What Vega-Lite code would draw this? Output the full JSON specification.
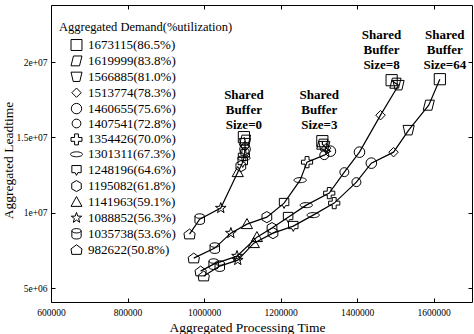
{
  "$schema": "https://vega.github.io/schema/vega-lite/v6.json",
  "width": 421,
  "height": 297,
  "autosize": {"type": "none"},
  "padding": {"left": 51, "top": 5, "right": 2, "bottom": 32},
  "background": "white",
  "config": {
    "font": "Liberation Serif",
    "view": {"stroke": "black", "strokeWidth": 1},
    "axis": {"grid": false}
  },
  "datasets": {
    "points": [
      {"buffer": "0", "demand": 982622, "level": "982622(50.8%)", "time": 962000, "leadtime": 8580000},
      {"buffer": "0", "demand": 1035738, "level": "1035738(53.6%)", "time": 988500, "leadtime": 9575000},
      {"buffer": "0", "demand": 1088852, "level": "1088852(56.3%)", "time": 1043600, "leadtime": 10306000},
      {"buffer": "0", "demand": 1141963, "level": "1141963(59.1%)", "time": 1088000, "leadtime": 12696000},
      {"buffer": "0", "demand": 1195082, "level": "1195082(61.8%)", "time": 1096000, "leadtime": 13094000},
      {"buffer": "0", "demand": 1248196, "level": "1248196(64.6%)", "time": 1101000, "leadtime": 13360000},
      {"buffer": "0", "demand": 1301311, "level": "1301311(67.3%)", "time": 1104000, "leadtime": 13626000},
      {"buffer": "0", "demand": 1354426, "level": "1354426(70.0%)", "time": 1104000, "leadtime": 13825000},
      {"buffer": "0", "demand": 1407541, "level": "1407541(72.8%)", "time": 1106000, "leadtime": 14024000},
      {"buffer": "0", "demand": 1460655, "level": "1460655(75.6%)", "time": 1107000, "leadtime": 14223000},
      {"buffer": "0", "demand": 1513774, "level": "1513774(78.3%)", "time": 1107000, "leadtime": 14422000},
      {"buffer": "0", "demand": 1566885, "level": "1566885(81.0%)", "time": 1107000, "leadtime": 14622000},
      {"buffer": "0", "demand": 1619999, "level": "1619999(83.8%)", "time": 1107000, "leadtime": 14821000},
      {"buffer": "0", "demand": 1673115, "level": "1673115(86.5%)", "time": 1104000, "leadtime": 15020000},

      {"buffer": "3", "demand": 982622, "level": "982622(50.8%)", "time": 973000, "leadtime": 6986000},
      {"buffer": "3", "demand": 1035738, "level": "1035738(53.6%)", "time": 1028000, "leadtime": 7650000},
      {"buffer": "3", "demand": 1088852, "level": "1088852(56.3%)", "time": 1070000, "leadtime": 8646000},
      {"buffer": "3", "demand": 1141963, "level": "1141963(59.1%)", "time": 1112000, "leadtime": 9243000},
      {"buffer": "3", "demand": 1195082, "level": "1195082(61.8%)", "time": 1164000, "leadtime": 9708000},
      {"buffer": "3", "demand": 1248196, "level": "1248196(64.6%)", "time": 1209000, "leadtime": 10638000},
      {"buffer": "3", "demand": 1301311, "level": "1301311(67.3%)", "time": 1251000, "leadtime": 12165000},
      {"buffer": "3", "demand": 1354426, "level": "1354426(70.0%)", "time": 1269000, "leadtime": 13360000},
      {"buffer": "3", "demand": 1407541, "level": "1407541(72.8%)", "time": 1314000, "leadtime": 13825000},
      {"buffer": "3", "demand": 1460655, "level": "1460655(75.6%)", "time": 1330000, "leadtime": 14090000},
      {"buffer": "3", "demand": 1513774, "level": "1513774(78.3%)", "time": 1319000, "leadtime": 14290000},
      {"buffer": "3", "demand": 1566885, "level": "1566885(81.0%)", "time": 1314000, "leadtime": 14422000},
      {"buffer": "3", "demand": 1619999, "level": "1619999(83.8%)", "time": 1309000, "leadtime": 14555000},
      {"buffer": "3", "demand": 1673115, "level": "1673115(86.5%)", "time": 1309000, "leadtime": 14754000},

      {"buffer": "8", "demand": 982622, "level": "982622(50.8%)", "time": 991000, "leadtime": 6122000},
      {"buffer": "8", "demand": 1035738, "level": "1035738(53.6%)", "time": 1025000, "leadtime": 6587000},
      {"buffer": "8", "demand": 1088852, "level": "1088852(56.3%)", "time": 1086000, "leadtime": 7118000},
      {"buffer": "8", "demand": 1141963, "level": "1141963(59.1%)", "time": 1138000, "leadtime": 8380000},
      {"buffer": "8", "demand": 1195082, "level": "1195082(61.8%)", "time": 1177500, "leadtime": 8978000},
      {"buffer": "8", "demand": 1248196, "level": "1248196(64.6%)", "time": 1219500, "leadtime": 9708000},
      {"buffer": "8", "demand": 1301311, "level": "1301311(67.3%)", "time": 1267000, "leadtime": 10505000},
      {"buffer": "8", "demand": 1354426, "level": "1354426(70.0%)", "time": 1327000, "leadtime": 11302000},
      {"buffer": "8", "demand": 1407541, "level": "1407541(72.8%)", "time": 1366500, "leadtime": 12696000},
      {"buffer": "8", "demand": 1460655, "level": "1460655(75.6%)", "time": 1406000, "leadtime": 14024000},
      {"buffer": "8", "demand": 1513774, "level": "1513774(78.3%)", "time": 1461000, "leadtime": 16481000},
      {"buffer": "8", "demand": 1566885, "level": "1566885(81.0%)", "time": 1508000, "leadtime": 18473000},
      {"buffer": "8", "demand": 1619999, "level": "1619999(83.8%)", "time": 1500000, "leadtime": 18606000},
      {"buffer": "8", "demand": 1673115, "level": "1673115(86.5%)", "time": 1490000, "leadtime": 18805000},

      {"buffer": "64", "demand": 982622, "level": "982622(50.8%)", "time": 999000, "leadtime": 5790000},
      {"buffer": "64", "demand": 1035738, "level": "1035738(53.6%)", "time": 1041000, "leadtime": 6454000},
      {"buffer": "64", "demand": 1088852, "level": "1088852(56.3%)", "time": 1088000, "leadtime": 6853000},
      {"buffer": "64", "demand": 1141963, "level": "1141963(59.1%)", "time": 1130000, "leadtime": 7982000},
      {"buffer": "64", "demand": 1195082, "level": "1195082(61.8%)", "time": 1180000, "leadtime": 8646000},
      {"buffer": "64", "demand": 1248196, "level": "1248196(64.6%)", "time": 1233000, "leadtime": 9110000},
      {"buffer": "64", "demand": 1301311, "level": "1301311(67.3%)", "time": 1285000, "leadtime": 9841000},
      {"buffer": "64", "demand": 1354426, "level": "1354426(70.0%)", "time": 1340000, "leadtime": 10638000},
      {"buffer": "64", "demand": 1407541, "level": "1407541(72.8%)", "time": 1398000, "leadtime": 12032000},
      {"buffer": "64", "demand": 1460655, "level": "1460655(75.6%)", "time": 1437000, "leadtime": 13294000},
      {"buffer": "64", "demand": 1513774, "level": "1513774(78.3%)", "time": 1495000, "leadtime": 14024000},
      {"buffer": "64", "demand": 1566885, "level": "1566885(81.0%)", "time": 1534500, "leadtime": 15485000},
      {"buffer": "64", "demand": 1619999, "level": "1619999(83.8%)", "time": 1587000, "leadtime": 17145000},
      {"buffer": "64", "demand": 1673115, "level": "1673115(86.5%)", "time": 1616000, "leadtime": 18871000}
    ],
    "labels": [
      {"text": "Shared\nBuffer\nSize=0", "time": 1104000, "leadtime": 17543000},
      {"text": "Shared\nBuffer\nSize=3", "time": 1301000, "leadtime": 17543000},
      {"text": "Shared\nBuffer\nSize=8", "time": 1463600, "leadtime": 21574000},
      {"text": "Shared\nBuffer\nSize=64", "time": 1629000, "leadtime": 21574000}
    ]
  },
  "layer": [
    {
      "data": {"name": "points"},
      "mark": {"type": "line", "color": "black", "strokeWidth": 1.2},
      "encoding": {
        "x": {
          "field": "time", "type": "quantitative",
          "scale": {"domain": [600000, 1700000], "nice": false, "zero": false},
          "axis": {
            "orient": "bottom",
            "values": [600000, 800000, 1000000, 1200000, 1400000, 1600000],
            "format": "d",
            "tickSize": -4, "tickColor": "black", "tickWidth": 1,
            "domain": false, "grid": false,
            "labelFont": "Liberation Serif", "labelFontSize": 9.5, "labelColor": "black",
            "labelPadding": 9, "labelFlush": false,
            "title": "Aggregated Processing Time",
            "titleFont": "Liberation Serif", "titleFontSize": 13.5, "titleFontWeight": "normal",
            "titleColor": "black", "titleX": 196, "titleY": 25, "titleBaseline": "middle"
          }
        },
        "y": {
          "field": "leadtime", "type": "quantitative",
          "scale": {"domain": [4070000, 23800000], "nice": false, "zero": false},
          "axis": {
            "orient": "left",
            "values": [5000000, 10000000, 15000000, 20000000],
            "labelExpr": "datum.value == 20000000 ? '2e+07' : datum.value == 15000000 ? '1.5e+07' : datum.value == 10000000 ? '1e+07' : '5e+06'",
            "tickSize": -4, "tickColor": "black", "tickWidth": 1,
            "domain": false, "grid": false,
            "labelFont": "Liberation Serif", "labelFontSize": 9.5, "labelColor": "black",
            "labelPadding": 8, "labelFlush": false,
            "title": "Aggregated Leadtime",
            "titleFont": "Liberation Serif", "titleFontSize": 13.5, "titleFontWeight": "normal",
            "titleColor": "black", "titleX": -43, "titleY": 155, "titleBaseline": "middle", "titleAlign": "center"
          }
        },
        "detail": {"field": "buffer", "type": "nominal"},
        "order": {"field": "demand", "type": "quantitative"}
      }
    },
    {
      "data": {"name": "points"},
      "mark": {"type": "point", "filled": false, "color": "black", "strokeWidth": 1, "size": 125, "opacity": 1},
      "encoding": {
        "x": {"field": "time", "type": "quantitative", "axis": null},
        "y": {"field": "leadtime", "type": "quantitative", "axis": null},
        "shape": {
          "field": "level", "type": "nominal",
          "scale": {
            "domain": ["1673115(86.5%)", "1619999(83.8%)", "1566885(81.0%)", "1513774(78.3%)", "1460655(75.6%)", "1407541(72.8%)", "1354426(70.0%)", "1301311(67.3%)", "1248196(64.6%)", "1195082(61.8%)", "1141963(59.1%)", "1088852(56.3%)", "1035738(53.6%)", "982622(50.8%)"],
            "range": [
              "square",
              "M-0.55,-0.9 L1,-0.9 L0.55,0.9 L-1,0.9 Z",
              "M-1,-0.85 L1,-0.85 L0.6,0.85 L-0.6,0.85 Z",
              "M0,-0.85 L0.85,0 L0,0.85 L-0.85,0 Z",
              "M0.95,0 A0.95,0.95 0 1,1 -0.95,0 A0.95,0.95 0 1,1 0.95,0 Z",
              "M0.8,0 A0.8,0.8 0 1,1 -0.8,0 A0.8,0.8 0 1,1 0.8,0 Z",
              "M-0.35,-1 L0.35,-1 L0.35,-0.35 L1,-0.35 L1,0.35 L0.35,0.35 L0.35,1 L-0.35,1 L-0.35,0.35 L-1,0.35 L-1,-0.35 L-0.35,-0.35 Z",
              "M1.1,0 A1.1,0.45 0 1,1 -1.1,0 A1.1,0.45 0 1,1 1.1,0 Z",
              "M-0.85,-0.85 L0.85,-0.85 L0.85,0.45 L0.25,0.45 L0,0.95 L-0.25,0.45 L-0.85,0.45 Z",
              "M0,-1 L0.87,-0.5 L0.87,0.5 L0,1 L-0.87,0.5 L-0.87,-0.5 Z",
              "M0,-1 L1,0.8 L-1,0.8 Z",
              "M0,-1 L0.235,-0.324 L0.951,-0.309 L0.380,0.124 L0.588,0.809 L0,0.4 L-0.588,0.809 L-0.380,0.124 L-0.951,-0.309 L-0.235,-0.324 Z",
              "M-0.85,-0.55 A0.85,0.4 0 0,1 0.85,-0.55 L0.85,0.55 A0.85,0.4 0 0,1 -0.85,0.55 Z M-0.85,-0.55 A0.85,0.4 0 0,0 0.85,-0.55",
              "M0,-0.9 L1,-0.15 L0.85,0.85 L-0.85,0.85 L-1,-0.15 Z"
            ]
          },
          "legend": {
            "orient": "none", "legendX": 8, "legendY": 16, "padding": 0,
            "title": "Aggregated Demand(%utilization)",
            "titleFont": "Liberation Serif", "titleFontSize": 12.5, "titleFontWeight": "normal",
            "titleColor": "black", "titlePadding": 5, "titleLimit": 400,
            "labelFont": "Liberation Serif", "labelFontSize": 13, "labelColor": "black",
            "labelOffset": 5, "labelLimit": 300,
            "symbolOffset": 11, "symbolSize": 120,
            "symbolStrokeColor": "black", "symbolStrokeWidth": 1, "symbolFillColor": "transparent",
            "rowPadding": 0.9
          }
        }
      }
    },
    {
      "data": {"name": "labels"},
      "mark": {"type": "text", "font": "Liberation Serif", "fontSize": 13, "fontWeight": "bold", "color": "black", "align": "center", "baseline": "alphabetic", "lineBreak": "\n", "lineHeight": 15},
      "encoding": {
        "x": {
          "field": "time", "type": "quantitative",
          "axis": {"orient": "top", "values": [600000, 800000, 1000000, 1200000, 1400000, 1600000], "labels": false, "tickSize": -4, "tickColor": "black", "domain": false, "grid": false, "title": null}
        },
        "y": {
          "field": "leadtime", "type": "quantitative",
          "axis": {"orient": "right", "values": [5000000, 10000000, 15000000, 20000000], "labels": false, "tickSize": -4, "tickColor": "black", "domain": false, "grid": false, "title": null}
        },
        "text": {"field": "text"}
      }
    }
  ],
  "resolve": {"axis": {"x": "independent", "y": "independent"}}
}
